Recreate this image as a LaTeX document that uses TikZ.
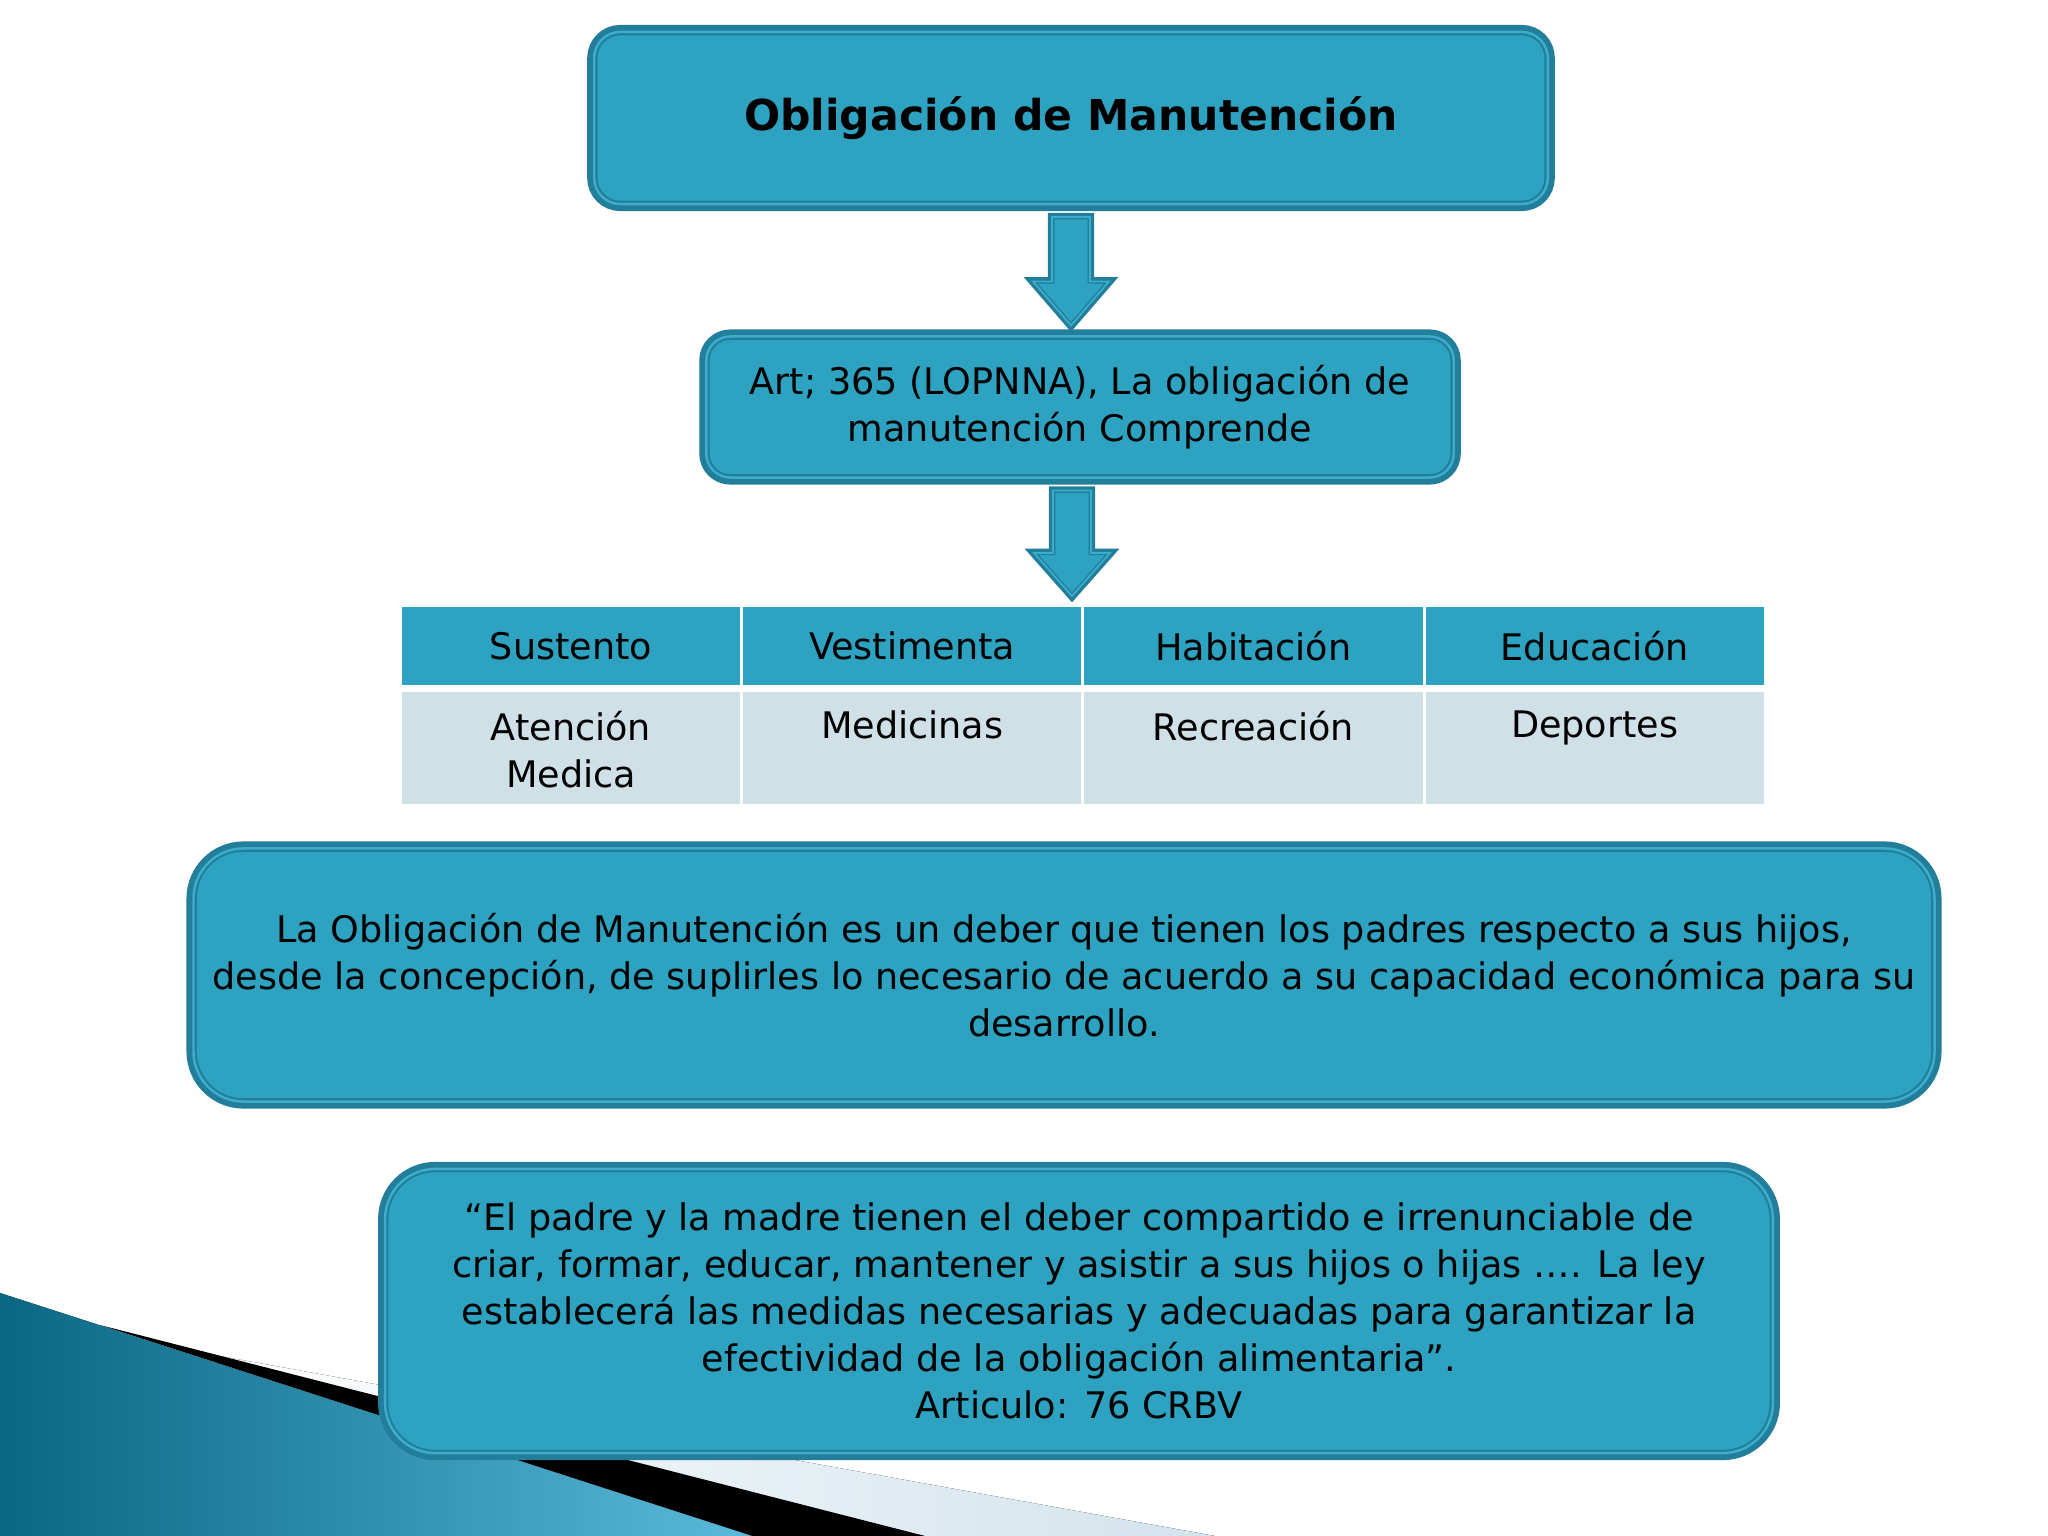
\documentclass[tikz,border=0pt]{standalone}
\usepackage{fontspec}
\setmainfont{DejaVu Sans}
\usetikzlibrary{positioning,calc}

\definecolor{boxfill}{HTML}{2DA2C1}
\definecolor{boxline}{HTML}{227E9B}
\definecolor{boxinner}{HTML}{3BAECB}
\definecolor{rowlight}{HTML}{CFE0E7}
\definecolor{wedgedark}{HTML}{0A6784}
\definecolor{wedgelight}{HTML}{5ABADB}
\definecolor{stripe}{HTML}{D3E3EC}

\begin{document}
\begin{tikzpicture}[
  x=0.01cm, y=-0.01cm,
  txt/.style={font=\fontsize{10.4}{13.4}\selectfont, text=black},
  panel/.style={preaction={draw=boxline, line width=4pt},
                draw=boxline, double=boxinner, double distance=0.7pt,
                line width=0.6pt, fill=boxfill, align=center, txt},
  head/.style={fill=boxfill, outer sep=0pt, inner sep=0pt, txt,
               minimum width=3.38cm, minimum height=0.78cm},
  cell/.style={fill=rowlight, outer sep=0pt, inner sep=0pt,
               minimum width=3.38cm, minimum height=1.12cm},
  celltxt/.style={anchor=north, align=center, txt, inner sep=0.18cm},
  barrow/.style={preaction={draw=boxline, line width=2.4pt},
                 draw=boxline, double=boxinner, double distance=0.5pt,
                 line width=0.4pt, fill=boxfill},
  node distance=0.03cm
]
\useasboundingbox (0,0) rectangle (2048,1536);
\fill[white] (0,0) rectangle (2048,1536);

% background wedge, bottom left
\fill[left color=white, right color=stripe] (170,1347) -- (1215,1536) -- (925,1536) -- cycle;
\fill[black] (100,1325) -- (925,1536) -- (752,1536) -- cycle;
\fill[left color=wedgedark, right color=wedgelight] (0,1293) -- (752,1536) -- (0,1536) -- cycle;

\node[panel, rounded corners=0.26cm, minimum width=9.53cm, minimum height=1.72cm,
      font=\fontsize{12.1}{15}\selectfont\bfseries] (title) at (1071,118) {Obligación de Manutención};
\node[panel, rounded corners=0.24cm, minimum width=7.47cm, minimum height=1.41cm] (art) at (1080,407)
  {Art; 365 (LOPNNA), La obligación de\\manutención Comprende};

% table
\node[head] (h1) at (571,646) {Sustento};
\node[head, right=of h1] (h2) {Vestimenta};
\node[head, right=of h2] (h3) {Habitación};
\node[head, right=of h3] (h4) {Educación};
\node[cell, below=0.07cm of h1, label={[celltxt]north:Atención\\Medica}] (c1) {};
\node[cell, below=0.07cm of h2, label={[celltxt]north:Medicinas}] (c2) {};
\node[cell, below=0.07cm of h3, label={[celltxt]north:Recreación}] (c3) {};
\node[cell, below=0.07cm of h4, label={[celltxt]north:Deportes}] (c4) {};

\node[panel, rounded corners=0.5cm, minimum width=17.4cm, minimum height=2.53cm] (def) at (1064,975)
  {La Obligación de Manutención es un deber que tienen los padres respecto a sus hijos,\\
   desde la concepción, de suplirles lo necesario de acuerdo a su capacidad económica para su\\
   desarrollo.};
\node[panel, rounded corners=0.5cm, minimum width=13.87cm, minimum height=2.84cm] (quote) at (1079,1311)
  {“El padre y la madre tienen el deber compartido e irrenunciable de\\
   criar, formar, educar, mantener y asistir a sus hijos o hijas …. La ley\\
   establecerá las medidas necesarias y adecuadas para garantizar la\\
   efectividad de la obligación alimentaria”.\\
   Articulo: 76 CRBV};

% block arrows
\draw[barrow] let \p1=($(title.south)+(0,12)$), \p2=($(art.north)+(0,-10)$) in
  (\x1-0.19cm,\y1) -- (\x1+0.19cm,\y1) -- (\x1+0.19cm,\y2+0.44cm) -- (\x1+0.38cm,\y2+0.44cm)
  -- (\x1,\y2) -- (\x1-0.38cm,\y2+0.44cm) -- (\x1-0.19cm,\y2+0.44cm) -- cycle;
\draw[barrow] let \p1=($(art.south)+(-8,12)$), \p2=($(h2.north)+(0,-11)$) in
  (\x1-0.19cm,\y1) -- (\x1+0.19cm,\y1) -- (\x1+0.19cm,\y2+0.43cm) -- (\x1+0.38cm,\y2+0.43cm)
  -- (\x1,\y2) -- (\x1-0.38cm,\y2+0.43cm) -- (\x1-0.19cm,\y2+0.43cm) -- cycle;
\end{tikzpicture}
\end{document}
